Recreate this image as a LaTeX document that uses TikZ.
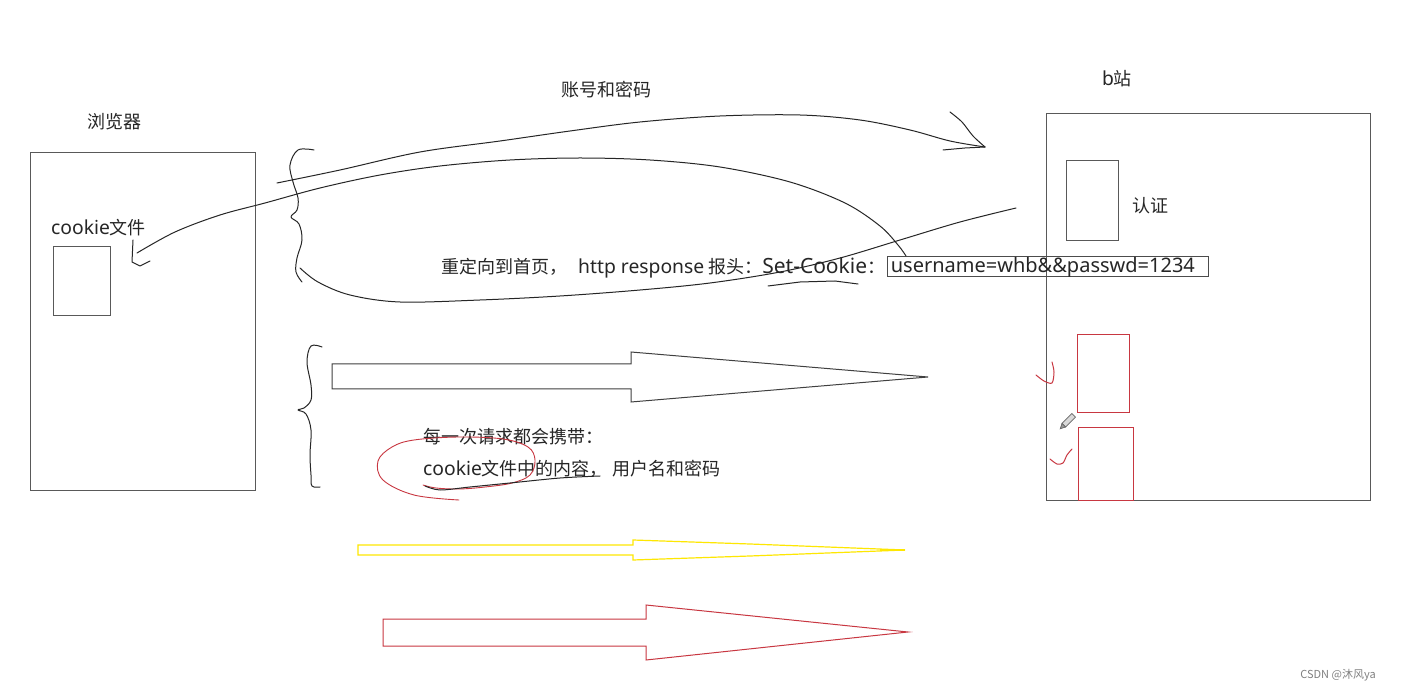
\documentclass[tikz,border=0pt]{standalone}
\usepackage{fontspec}
\setmainfont{Noto Sans CJK SC}
\newfontfamily\latf{Noto Sans}
\newcommand{\lat}{\latf\fontsize{19.3}{22}\selectfont}
\definecolor{pinkred}{RGB}{200,55,65}
\begin{document}
\begin{tikzpicture}[x=1pt,y=-1pt,
  box/.style={draw=black!65,line width=1.1pt},
  redbox/.style={draw=pinkred,line width=1pt},
  lbl/.style={inner sep=0pt,font=\fontsize{18}{22}\selectfont,text=black!85},
  ink/.style={draw=black!85,line width=1pt,line cap=round,line join=round},
  redink/.style={draw=pinkred,line width=1pt,line cap=round,line join=round}]
\useasboundingbox[fill=white] (0,0) rectangle (1403,692);
% browser
\node[box,minimum width=225pt,minimum height=338pt,anchor=north west,inner sep=0pt] (browser) at (30,152) {};
\node[lbl] (browserlbl) at (114,122) {浏览器};
\node[lbl,anchor=west] (cookielbl) at (51,228) {{\lat cookie}文件};
\node[box,minimum width=57pt,minimum height=69pt,anchor=north west,inner sep=0pt] (cookiebox) at (53,246) {};
% site
\node[box,minimum width=324pt,minimum height=387pt,anchor=north west,inner sep=0pt] (site) at (1046,113) {};
\node[lbl] (sitelbl) at (1117,79) {{\lat b}站};
\node[box,minimum width=52pt,minimum height=80pt,anchor=north west,inner sep=0pt] (auth) at (1066,160) {};
\node[lbl] (authlbl) at (1150,206) {认证};
\node[redbox,minimum width=52pt,minimum height=78pt,anchor=north west,inner sep=0pt] (r1) at (1077,334) {};
\node[redbox,minimum width=55pt,minimum height=73pt,anchor=north west,inner sep=0pt] (r2) at (1078,427) {};
% checks
\draw[redink] plot[smooth] coordinates {(1036,375) (1044,381) (1052,383) (1054,372) (1052,362)};
\draw[redink] plot[smooth] coordinates {(1050,459) (1057,464) (1063,463) (1067,455) (1072,449)};
% pencil
\begin{scope}[shift={(1068,421)},rotate=-45]
\draw[black!60,fill=black!15,line width=0.7pt] (-2.5,-8) rectangle (2.5,6);
\draw[black!60,fill=black!40,line width=0.7pt] (-2.5,6) -- (0,11) -- (2.5,6) -- cycle;
\end{scope}
% labels
\node[lbl] (acct) at (606,90) {账号和密码};
\node[lbl,anchor=west] (redir) at (441,268) {重定向到首页，\hspace{11pt}{\lat http response} 报头：{\latf\fontsize{21}{22}\selectfont Set-Cookie}：};
\node[draw=black!70,line width=1pt,anchor=west,inner sep=0pt,minimum height=20pt,text width=321pt,
  font=\latf\fontsize{20}{22}\selectfont,text=black!85,align=left] (setc) at (887,267) {\,username=whb\&\&passwd=1234};
\node[lbl,anchor=west] (every1) at (423,437) {每一次请求都会携带：};
\node[lbl,anchor=west] (every2) at (423,469) {{\lat cookie}文件中的内容，\hspace{5pt}用户名和密码};
% braces
\draw[ink] plot[smooth,tension=0.6] coordinates {(314,150) (298,150) (290,165) (293,182) (298,198) (297,210) (291,217) (299,224) (302,240) (297,258) (296,272) (302,282)};
\draw[ink] plot[smooth,tension=0.6] coordinates {(322,347) (311,346) (307,362) (311,385) (311,400) (304,408) (298,410) (306,414) (311,430) (310,455) (311,475) (312,486) (320,487)};
% top curve with arrow
\draw[ink] plot[smooth,tension=0.55] coordinates {(277,183) (340,170) (420,152) (500,141) (570,131) (640,122) (720,116) (800,115) (860,120) (910,130) (950,141) (985,147)};
\draw[ink] plot[smooth] coordinates {(950,112) (962,122) (973,136) (985,147)};
\draw[ink] (943,150) -- (965,148) -- (985,147);
% cookie to response curve
\draw[ink] (133,240) -- (132,262) -- (140,266) -- (150,261);
\draw[ink] plot[smooth,tension=0.55] coordinates {(137,253) (175,232) (220,215) (265,203) (320,188) (380,175) (440,166) (510,160) (580,158) (650,160) (720,167) (790,182) (845,203) (880,226) (898,245) (906,256)};
% response curve
\draw[ink] plot[smooth,tension=0.55] coordinates {(1016,208) (960,222) (900,240) (840,258) (780,272) (710,283) (640,290) (560,296) (480,300) (400,302) (350,295) (318,282) (300,268)};
\draw[ink] (768,286) -- (800,282) -- (835,281) -- (858,284);
% hollow arrows
\draw[draw=black!75,line width=1pt] (332,364) -- (631,364) -- (631,352) -- (928,377) -- (631,402) -- (631,389) -- (332,389) -- cycle;
\draw[draw=yellow!90!orange,line width=1.2pt] (358,545) -- (633,545) -- (633,540) -- (750,544) -- (905,550) -- (750,556) -- (633,560) -- (633,555) -- (358,555) -- cycle;
\draw[draw=yellow!90!orange,line width=1.5pt] (880,550) -- (905,550);
\draw[draw=pinkred,line width=1pt] (383,619) -- (646,619) -- (646,605) -- (908,632) -- (646,660) -- (646,646) -- (383,646) -- cycle;
% red loop and underline
\draw[redink,line width=0.9pt] plot[smooth,tension=0.6] coordinates {(459,500) (414,495) (383,480) (378,461) (392,447) (414,440) (459,437) (503,439) (528,447) (535,460) (530,475) (512,483) (485,487) (459,489) (436,488) (423,485)};
\draw[ink] plot[smooth] coordinates {(425,486) (440,490) (470,487) (510,483) (560,478) (600,476)};
% watermark
\node[inner sep=0pt,font=\fontsize{11}{13}\selectfont,text=black!50] (wm) at (1338,675) {CSDN @沐风ya};
\end{tikzpicture}
\end{document}
